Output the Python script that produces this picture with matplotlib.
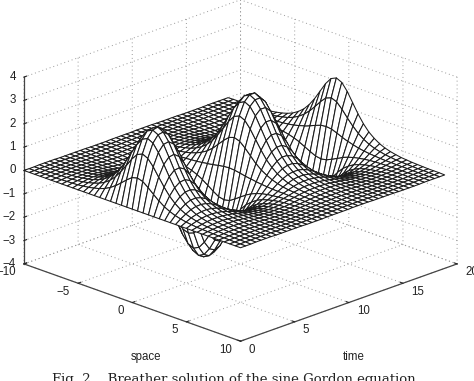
import numpy as np
import matplotlib
matplotlib.use('Agg')
import matplotlib.pyplot as plt
from mpl_toolkits.mplot3d import proj3d

# z per time step (rows), space 0..10 in steps of 0.5 (columns), surface mirrors about space=0
z_half = [
[0,0,0,0,0,0,0,0,0,0,0,0,0,0,0,0,0,0,0,0,0],
[1.26,1.19,1.01,.80,.60,.43,.31,.22,.16,.11,.08,.05,.04,.03,.02,.01,.01,.01,0,0,0],
[2.21,2.10,1.82,1.46,1.11,.81,.58,.41,.29,.21,.15,.10,.07,.05,.04,.03,.02,.01,.01,.01,0],
[2.79,2.67,2.35,1.92,1.48,1.09,.79,.56,.40,.28,.20,.14,.10,.07,.05,.04,.02,.02,.01,.01,.01],
[3.07,2.95,2.62,2.16,1.68,1.25,.91,.65,.46,.32,.23,.16,.11,.08,.06,.04,.03,.02,.01,.01,.01],
[3.12,2.99,2.66,2.20,1.71,1.28,.93,.66,.47,.33,.23,.16,.12,.08,.06,.04,.03,.02,.01,.01,.01],
[2.93,2.81,2.48,2.03,1.58,1.17,.85,.60,.43,.30,.21,.15,.10,.08,.05,.04,.03,.02,.01,.01,.01],
[2.47,2.36,2.06,1.66,1.27,.93,.67,.48,.34,.24,.17,.12,.08,.06,.04,.03,.02,.01,.01,.01,0],
[1.67,1.59,1.36,1.08,.81,.59,.42,.30,.21,.15,.10,.08,.05,.04,.03,.02,.01,.01,.01,0,0],
[.51,.48,.41,.32,.24,.17,.12,.09,.06,.04,.03,.02,.02,.01,.01,.01,0,0,0,0,0],
[-.79,-.75,-.63,-.50,-.37,-.27,-.19,-.14,-.10,-.07,-.05,-.03,-.02,-.02,-.01,-.01,-.01,0,0,0,0],
[-1.88,-1.79,-1.54,-1.22,-.92,-.67,-.48,-.34,-.24,-.17,-.12,-.08,-.06,-.04,-.03,-.02,-.01,-.01,-.01,0,0],
[-2.60,-2.49,-2.18,-1.77,-1.35,-1.00,-.72,-.51,-.36,-.26,-.18,-.13,-.09,-.06,-.04,-.03,-.02,-.02,-.01,-.01,0],
[-2.99,-2.87,-2.54,-2.09,-1.62,-1.20,-.87,-.62,-.44,-.31,-.22,-.16,-.11,-.08,-.05,-.04,-.03,-.02,-.01,-.01,-.01],
[-3.13,-3.00,-2.67,-2.21,-1.72,-1.28,-.94,-.67,-.47,-.33,-.23,-.17,-.12,-.08,-.06,-.04,-.03,-.02,-.01,-.01,-.01],
[-3.03,-2.91,-2.58,-2.12,-1.65,-1.23,-.89,-.63,-.45,-.32,-.22,-.16,-.11,-.08,-.06,-.04,-.03,-.02,-.01,-.01,-.01],
[-2.69,-2.57,-2.26,-1.84,-1.41,-1.04,-.75,-.54,-.38,-.27,-.19,-.13,-.09,-.07,-.05,-.03,-.02,-.02,-.01,-.01,-.01],
[-2.03,-1.92,-1.66,-1.33,-1.00,-.73,-.53,-.37,-.26,-.19,-.13,-.09,-.06,-.05,-.03,-.02,-.02,-.01,-.01,-.01,0],
[-1.00,-.95,-.80,-.63,-.47,-.34,-.24,-.17,-.12,-.09,-.06,-.04,-.03,-.02,-.02,-.01,-.01,-.01,0,0,0],
[.29,.27,.23,.18,.14,.10,.07,.05,.03,.02,.02,.01,.01,.01,0,0,0,0,0,0,0],
[1.51,1.43,1.22,.97,.72,.52,.38,.27,.19,.13,.09,.07,.05,.03,.02,.02,.01,.01,.01,0,0],
[2.36,2.25,1.96,1.58,1.21,.88,.64,.45,.32,.22,.16,.11,.08,.06,.04,.03,.02,.01,.01,.01,0],
[2.88,2.76,2.44,2.00,1.55,1.14,.83,.59,.42,.30,.21,.15,.10,.07,.05,.04,.02,.02,.01,.01,.01],
[3.10,2.97,2.65,2.19,1.71,1.27,.93,.66,.46,.33,.23,.16,.11,.08,.06,.04,.03,.02,.01,.01,.01],
[3.10,2.97,2.64,2.18,1.70,1.27,.92,.66,.46,.33,.23,.16,.11,.08,.06,.04,.03,.02,.01,.01,.01],
[2.85,2.74,2.41,1.97,1.53,1.13,.82,.58,.41,.29,.20,.14,.10,.07,.05,.04,.02,.02,.01,.01,.01],
[2.33,2.22,1.93,1.55,1.18,.87,.63,.44,.31,.22,.16,.11,.08,.06,.04,.03,.02,.01,.01,.01,0],
[1.45,1.37,1.17,.92,.69,.50,.36,.26,.18,.13,.09,.06,.04,.03,.02,.02,.01,.01,.01,0,0],
[.22,.21,.18,.14,.10,.07,.05,.04,.03,.02,.01,.01,.01,0,0,0,0,0,0,0,0],
[-1.07,-1.01,-.85,-.67,-.50,-.36,-.26,-.18,-.13,-.09,-.06,-.05,-.03,-.02,-.02,-.01,-.01,-.01,0,0,0],
[-2.07,-1.96,-1.70,-1.36,-1.03,-.75,-.54,-.38,-.27,-.19,-.14,-.10,-.07,-.05,-.03,-.02,-.02,-.01,-.01,-.01,0],
[-2.72,-2.60,-2.28,-1.86,-1.43,-1.06,-.76,-.54,-.38,-.27,-.19,-.14,-.09,-.07,-.05,-.03,-.02,-.02,-.01,-.01,-.01],
[-3.04,-2.92,-2.59,-2.13,-1.66,-1.24,-.90,-.64,-.45,-.32,-.22,-.16,-.11,-.08,-.06,-.04,-.03,-.02,-.01,-.01,-.01],
[-3.13,-3.00,-2.67,-2.21,-1.72,-1.28,-.94,-.67,-.47,-.33,-.23,-.17,-.11,-.08,-.06,-.04,-.03,-.02,-.01,-.01,-.01],
[-2.98,-2.86,-2.53,-2.08,-1.61,-1.20,-.87,-.62,-.44,-.31,-.22,-.15,-.11,-.08,-.05,-.04,-.03,-.02,-.01,-.01,-.01],
[-2.57,-2.45,-2.15,-1.73,-1.34,-.98,-.71,-.50,-.36,-.25,-.18,-.13,-.09,-.06,-.04,-.03,-.02,-.02,-.01,-.01,-.01],
[-1.84,-1.74,-1.50,-1.19,-.90,-.65,-.47,-.33,-.24,-.17,-.12,-.08,-.06,-.04,-.03,-.02,-.01,-.01,-.01,0,0],
[-.73,-.69,-.58,-.46,-.34,-.25,-.18,-.13,-.09,-.06,-.04,-.03,-.02,-.02,-.01,-.01,-.01,0,0,0,0],
[.58,.55,.46,.36,.27,.20,.14,.10,.07,.05,.03,.02,.02,.01,.01,.01,0,0,0,0,0],
[1.73,1.64,1.40,1.11,.84,.61,.44,.31,.22,.16,.11,.08,.05,.04,.03,.02,.01,.01,.01,0,0],
[2.50,2.39,2.09,1.69,1.29,.95,.68,.49,.34,.24,.17,.12,.08,.06,.04,.03,.02,.01,.01,.01,0],
]
space_half = [0,.5,1,1.5,2,2.5,3,3.5,4,4.5,5,5.5,6,6.5,7,7.5,8,8.5,9,9.5,10]
time_end = 18.85
space_ticks = [-10,-5,0,5,10]
time_ticks = [0,5,10,15,20]
z_ticks = [-4,-3,-2,-1,0,1,2,3,4]

z_half = np.array(z_half)
Z = np.hstack([z_half[:,:0:-1],z_half])
space = np.concatenate([-np.array(space_half[:0:-1]),space_half])
time = np.linspace(0,time_end,Z.shape[0])
S,T = np.meshgrid(space,time)

plt.rcParams['font.family'] = ['Liberation Sans']
fig = plt.figure(figsize=(4.74,3.81),dpi=100)
ax = fig.add_axes([-0.0034,0.039,1,1],projection='3d',proj_type='ortho')
ax.view_init(elev=20.9,azim=-45)
ax.set_box_aspect((1,1,0.653),zoom=1.2156)
ax.patch.set_alpha(0)
surf = ax.plot_surface(S,T,Z,rstride=1,cstride=1,color='white',edgecolor='#1a1a1a',linewidth=0.75,shade=False,antialiased=True)
surf.set_clip_on(False)
ax.set_xlim(-10,10)
ax.set_ylim(0,20)
ax.set_zlim(-4,4)
ax.set_xticks(space_ticks)
ax.set_yticks(time_ticks)
ax.set_zticks(z_ticks)
ax.set_xticklabels(['']*len(space_ticks))
ax.set_yticklabels(['']*len(time_ticks))
ax.set_zticklabels(['']*len(z_ticks))
for a in (ax.xaxis,ax.yaxis,ax.zaxis):
    a.set_pane_color((1,1,1,0))
    a.pane.set_edgecolor((1,1,1,0))
    a.line.set_color('#444444')
    a.line.set_linewidth(0.9)
    a._axinfo['grid'].update(color='#999999',linewidth=0.7,linestyle=(0,(1,3)))
    a._axinfo['tick'].update(inward_factor=0,outward_factor=0.15)
    a.set_tick_params(pad=0,colors='#222222')
ax.zaxis.set_ticks_position('lower')

# mplot3d pushes tick labels too far down, so hang them off the tick points
def tick_label(x,y,z,txt,dx,dy,ha):
    px,py,_ = proj3d.proj_transform(x,y,z,ax.get_proj())
    ax.annotate(txt.replace('-','\u2212'),xy=(px,py),xytext=(dx,dy),textcoords='offset points',
                fontsize=8.3,ha=ha,va='center',color='#222222',annotation_clip=False)

for t in space_ticks:
    tick_label(t,0,-4,str(t),-5.8,-6.1,'right')
for t in time_ticks:
    tick_label(10,t,-4,str(t),5.8,-6.1,'left')
for t in z_ticks:
    tick_label(-10,0,t,str(t),-5.8,0,'right')

fig.text(146/474,1-357/381,'space',fontsize=8.3,ha='center',va='center',color='#222222')
fig.text(354/474,1-357/381,'time',fontsize=8.3,ha='center',va='center',color='#222222')
fig.text(52/474,1-373/381,'Fig. 2.   Breather solution of the sine Gordon equation',fontsize=9.5,family='DejaVu Serif',ha='left',va='top',color='#222222')
fig.savefig('out.png',dpi=100)
